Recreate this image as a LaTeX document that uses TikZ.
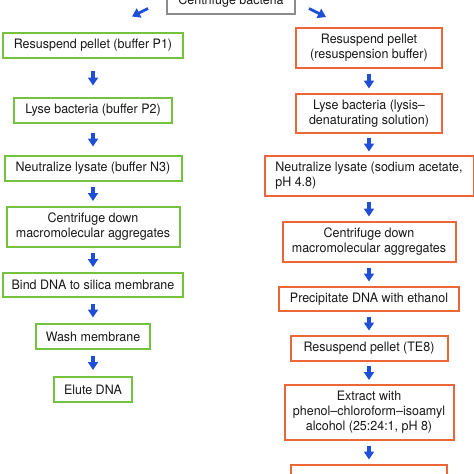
\documentclass[tikz,border=0pt]{standalone}
\usepackage{fontspec}
\setmainfont{TeX Gyre Heros}[FakeStretch=0.96]
\usepackage{tikz}
\usetikzlibrary{arrows.meta,positioning}
\definecolor{kitgreen}{HTML}{74C23E}
\definecolor{phenorange}{HTML}{EC663A}
\definecolor{stepblue}{HTML}{1E4FD6}
\definecolor{startgray}{HTML}{8C8C8C}

\begin{document}
\begin{tikzpicture}[
 x=1pt, y=-1pt,
 box/.style={draw=#1, line width=2pt, fill=white, inner sep=0pt, align=center,
 font=\fontsize{13}{15}\selectfont, text=black!90},
 arr/.style={-{Triangle[width=10pt,length=8pt]}, line width=3.2pt, stepblue,
 shorten <=#1, shorten >=#1},
 arr/.default=4.5pt
]
\useasboundingbox (0,0) rectangle (474,474);

% Root
\node[box=startgray, minimum width=128pt, minimum height=25pt] (start) at (231,1.5) {Centrifuge bacteria};
\coordinate (ls) at (148,8.5);
\coordinate (le) at (132,16.5);
\coordinate (rs) at (309,8.5);
\coordinate (re) at (326,17);
\draw[arr=0pt, line width=2.8pt] (ls) -- (le);
\draw[arr=0pt, line width=2.8pt] (rs) -- (re);

% Kit protocol (left)
\node[box=kitgreen, minimum width=180pt, minimum height=25pt] (l1) at (93,45.5) {Resuspend pellet (buffer P1)};
\node[box=kitgreen, minimum width=158pt, minimum height=25pt] (l2) at (93,110.5) {Lyse bacteria (buffer P2)};
\node[box=kitgreen, minimum width=177pt, minimum height=25pt] (l3) at (93,168.5) {Neutralize lysate (buffer N3)};
\node[box=kitgreen, minimum width=173pt, minimum height=40pt] (l4) at (93,227) {Centrifuge down\\macromolecular aggregates};
\node[box=kitgreen, minimum width=180pt, minimum height=24pt] (l5) at (93,285) {Bind DNA to silica membrane};
\node[box=kitgreen, minimum width=114pt, minimum height=25pt] (l6) at (93,336.5) {Wash membrane};
\node[box=kitgreen, minimum width=78pt, minimum height=25pt] (l7) at (93,389.5) {Elute DNA};

\draw[arr=11.5pt] (l1) -- (l2);
\draw[arr=8.5pt] (l2) -- (l3);
\draw[arr=5pt] (l3) -- (l4);
\draw[arr=5pt] (l4) -- (l5);
\draw[arr=5.5pt] (l5) -- (l6);
\draw[arr=6pt] (l6) -- (l7);

% Phenol protocol (right)
\node[box=phenorange, minimum width=146pt, minimum height=40pt] (r1) at (369,48) {Resuspend pellet\\(resuspension buffer)};
\node[box=phenorange, minimum width=146pt, minimum height=39pt] (r2) at (369,113.5) {Lyse bacteria (lysis–\\denaturating solution)};
\node[box=phenorange, minimum width=209pt, minimum height=40pt, align=left] (r3) at (369,176) {Neutralize lysate (sodium acetate,\\pH 4.8)};
\node[box=phenorange, minimum width=173pt, minimum height=40pt] (r4) at (369,242) {Centrifuge down\\macromolecular aggregates};
\node[box=phenorange, minimum width=180pt, minimum height=24pt] (r5) at (369,299) {Precipitate DNA with ethanol};
\node[box=phenorange, minimum width=157pt, minimum height=25pt] (r6) at (369,348.5) {Resuspend pellet (TE8)};
\node[box=phenorange, minimum width=169pt, minimum height=55pt] (r7) at (369,412.5) {Extract with\\phenol–chloroform–isoamyl\\alcohol (25:24:1, pH 8)};
\node[box=phenorange, minimum width=156pt, minimum height=25pt] (r8) at (369,477.5) {};

\draw[arr] (r1) -- (r2);
\draw[arr=3.5pt] (r2) -- (r3);
\draw[arr] (r3) -- (r4);
\draw[arr] (r4) -- (r5);
\draw[arr] (r5) -- (r6);
\draw[arr=4pt] (r6) -- (r7);
\draw[arr] (r7) -- (r8);
\end{tikzpicture}
\end{document}
